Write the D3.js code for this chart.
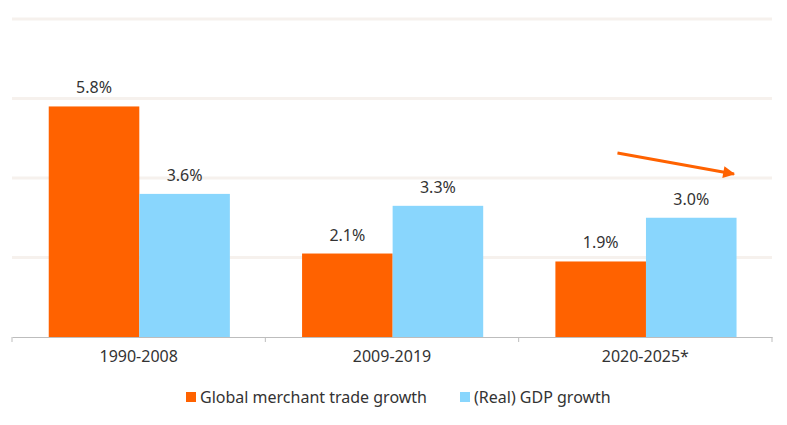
<!DOCTYPE html>
<html>
<head>
<meta charset="utf-8">
<script src="https://cdn.jsdelivr.net/npm/d3@7"></script>
<style>
  body { margin: 0; background: #fff; }
  text { font-family: "Noto Sans", Lato, sans-serif; fill: #333; }
</style>
</head>
<body>
<svg id="chart" width="787" height="425"></svg>
<script>
var periods = ["1990-2008", "2009-2019", "2020-2025*"];
var seriesNames = ["Global merchant trade growth", "(Real) GDP growth"];
var tradeGrowth = [5.8, 2.1, 1.9];
var gdpGrowth = [3.6, 3.3, 3.0];
var gridTicks = [2, 4, 6, 8];
var colours = ["#ff6200", "#89d6fd"];

var svg = d3.select("#chart");
var plotLeft = 12, plotRight = 772, plotTop = 19, plotBase = 337;

var x0 = d3.scaleBand().domain(periods).range([plotLeft, plotRight]).padding(0);
var x1 = d3.scaleBand().domain(seriesNames)
    .range([x0.bandwidth() * 0.145, x0.bandwidth() * 0.86]);
var y = d3.scaleLinear().domain([0, 8]).range([plotBase, plotTop]);

/* lignes de la grille */
svg.selectAll("line.grid")
    .data(gridTicks)
    .enter()
    .append("line")
    .attr("class", "grid")
    .attr("x1", plotLeft).attr("x2", plotRight)
    .attr("y1", function (d) { return y(d); })
    .attr("y2", function (d) { return y(d); })
    .attr("stroke", "#f6f1ed")
    .attr("stroke-width", 3);

var rows = periods.map(function (p, i) {
    return { period: p, values: [tradeGrowth[i], gdpGrowth[i]] };
});

var groups = svg.selectAll("g.period")
    .data(rows)
    .enter()
    .append("g")
    .attr("transform", function (d) { return "translate(" + x0(d.period) + ",0)"; });

groups.selectAll("rect")
    .data(function (d) { return d.values.map(function (v, k) { return { name: seriesNames[k], v: v, k: k }; }); })
    .enter()
    .append("rect")
    .attr("x", function (d) { return x1(d.name); })
    .attr("width", x1.bandwidth())
    .attr("y", function (d) { return y(d.v); })
    .attr("height", function (d) { return plotBase - y(d.v); })
    .attr("fill", function (d) { return colours[d.k]; });

groups.selectAll("text.val")
    .data(function (d) { return d.values.map(function (v, k) { return { name: seriesNames[k], v: v }; }); })
    .enter()
    .append("text")
    .attr("class", "val")
    .attr("x", function (d) { return x1(d.name) + x1.bandwidth() / 2; })
    .attr("y", function (d) { return y(d.v) - 13; })
    .attr("text-anchor", "middle")
    .attr("font-size", 16)
    .text(function (d) { return d.v.toFixed(1) + "%"; });

/* axe des x */
var axis = svg.append("g")
    .attr("transform", "translate(0," + plotBase + ")")
    .call(d3.axisBottom(x0).tickSize(0).tickPadding(14));
axis.select(".domain").attr("stroke", "#bdbdbd");
axis.selectAll("text").attr("font-size", 16).attr("fill", "#333")
    .style("font-family", "'Noto Sans', Lato, sans-serif");

// petits traits entre les groupes
var sepX = [plotLeft].concat(periods.map(function (p) { return x0(p) + x0.bandwidth(); }));
svg.selectAll("line.sep")
    .data(sepX)
    .enter()
    .append("line")
    .attr("x1", function (d) { return d; }).attr("x2", function (d) { return d; })
    .attr("y1", plotBase).attr("y2", plotBase + 5)
    .attr("stroke", "#bdbdbd");

/* flèche de tendance */
var arrowFrom = [4.63, 0.39], arrowTo = [4.1, 0.85]; // [valeur, position dans le groupe]
svg.append("defs").append("marker")
    .attr("id", "head")
    .attr("viewBox", "0 0 10 10")
    .attr("refX", 9).attr("refY", 5)
    .attr("markerWidth", 4.5).attr("markerHeight", 4)
    .attr("orient", "auto")
    .append("path").attr("d", "M0,0 L10,5 L0,10 z").attr("fill", colours[0]);
var lastBand = x0(periods[2]);
svg.append("line")
    .attr("x1", lastBand + x0.bandwidth() * arrowFrom[1])
    .attr("y1", y(arrowFrom[0]))
    .attr("x2", lastBand + x0.bandwidth() * arrowTo[1])
    .attr("y2", y(arrowTo[0]))
    .attr("stroke", colours[0])
    .attr("stroke-width", 3)
    .attr("marker-end", "url(#head)");

/* légende */
var legend = svg.append("g").attr("transform", "translate(186,397)");
var legX = [0, 274];
seriesNames.forEach(function (n, k) {
    legend.append("rect")
        .attr("x", legX[k]).attr("y", -5)
        .attr("width", 10).attr("height", 10)
        .attr("fill", colours[k]);
    legend.append("text")
        .attr("x", legX[k] + 14).attr("y", 6)
        .attr("font-size", 16)
        .text(n);
});
</script>
</body>
</html>
